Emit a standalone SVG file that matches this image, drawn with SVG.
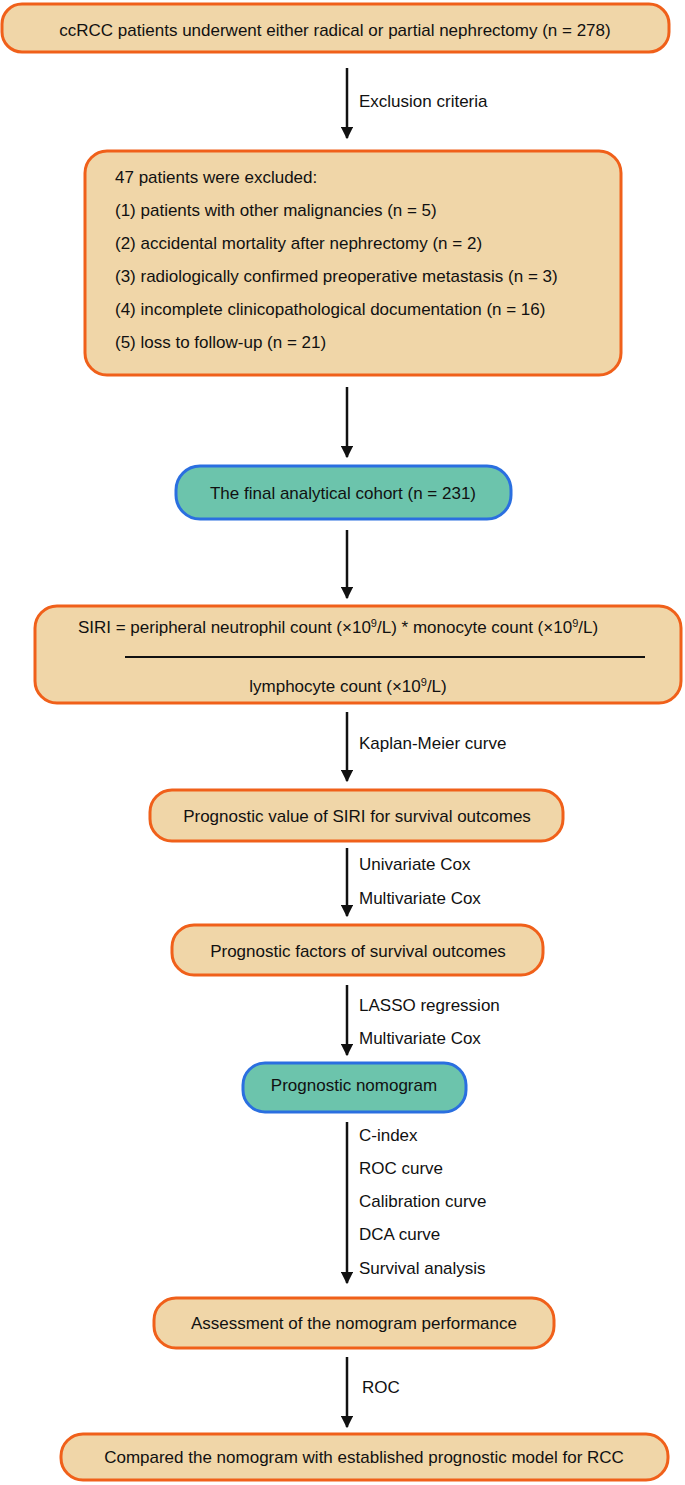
<svg xmlns="http://www.w3.org/2000/svg" width="685" height="1485" viewBox="0 0 685 1485">
<style>
.o{fill:#F0D6A8;stroke:#F0601A;stroke-width:3}
.t{fill:#6CC4AC;stroke:#2A6FE0;stroke-width:3}
text{font-family:"Liberation Sans",Arial,sans-serif;font-size:17px;fill:#111}
.c{text-anchor:middle}
.a{stroke:#111;stroke-width:2.5;fill:none;marker-end:url(#ah)}
</style>
<defs><marker id="ah" viewBox="0 0 10 10" refX="9" refY="5" markerWidth="5" markerHeight="5" orient="auto" markerUnits="strokeWidth"><path d="M0,0L10,5L0,10z" fill="#111"/></marker></defs>
<rect width="685" height="1485" fill="#fff"/>
<g id="n1"><rect class="o" x="2" y="4" width="667" height="48" rx="20"/><text class="c" x="335" y="36">ccRCC patients underwent either radical or partial nephrectomy (n = 278)</text></g>
<g id="n2"><rect class="o" x="85" y="151" width="536" height="224" rx="22"/>
<text x="115" y="183">47 patients were excluded:</text>
<text x="115" y="216">(1) patients with other malignancies (n = 5)</text>
<text x="115" y="249">(2) accidental mortality after nephrectomy (n = 2)</text>
<text x="115" y="282">(3) radiologically confirmed preoperative metastasis (n = 3)</text>
<text x="115" y="315">(4) incomplete clinicopathological documentation (n = 16)</text>
<text x="115" y="348">(5) loss to follow-up (n = 21)</text></g>
<g id="n3"><rect class="t" x="176" y="466" width="335" height="53" rx="24"/><text class="c" x="343" y="499">The final analytical cohort (n = 231)</text></g>
<g id="n4"><rect class="o" x="35" y="606" width="646" height="97" rx="22"/>
<text class="c" x="338" y="633">SIRI = peripheral neutrophil count (×10<tspan dy="-6" font-size="11">9</tspan><tspan dy="6">/L) * monocyte count (×10</tspan><tspan dy="-6" font-size="11">9</tspan><tspan dy="6">/L)</tspan></text>
<line x1="125" y1="657" x2="645" y2="657" stroke="#111" stroke-width="2"/>
<text class="c" x="348" y="692">lymphocyte count (×10<tspan dy="-6" font-size="11">9</tspan><tspan dy="6">/L)</tspan></text></g>
<g id="n5"><rect class="o" x="150" y="790" width="413" height="51" rx="22"/><text class="c" x="357" y="822">Prognostic value of SIRI for survival outcomes</text></g>
<g id="n6"><rect class="o" x="172" y="925" width="371" height="50" rx="22"/><text class="c" x="358" y="957">Prognostic factors of survival outcomes</text></g>
<g id="n7"><rect class="t" x="243" y="1063" width="223" height="49" rx="22"/><text class="c" x="354" y="1091">Prognostic nomogram</text></g>
<g id="n8"><rect class="o" x="154" y="1298" width="400" height="50" rx="22"/><text class="c" x="354" y="1329">Assessment of the nomogram performance</text></g>
<g id="n9"><rect class="o" x="61" y="1434" width="607" height="46" rx="22"/><text class="c" x="364" y="1463">Compared the nomogram with established prognostic model for RCC</text></g>
<g id="edges">
<line class="a" x1="347" y1="68" x2="347" y2="138"/>
<line class="a" x1="347" y1="387" x2="347" y2="457"/>
<line class="a" x1="347" y1="530" x2="347" y2="598"/>
<line class="a" x1="347" y1="712" x2="347" y2="781"/>
<line class="a" x1="347" y1="848" x2="347" y2="916"/>
<line class="a" x1="347" y1="985" x2="347" y2="1055"/>
<line class="a" x1="347" y1="1122" x2="347" y2="1283"/>
<line class="a" x1="347" y1="1357" x2="347" y2="1427"/>
<text x="359" y="107">Exclusion criteria</text>
<text x="359" y="749">Kaplan-Meier curve</text>
<text x="359" y="870">Univariate Cox</text>
<text x="359" y="904">Multivariate Cox</text>
<text x="359" y="1011">LASSO regression</text>
<text x="359" y="1044">Multivariate Cox</text>
<text x="359" y="1141">C-index</text>
<text x="359" y="1174">ROC curve</text>
<text x="359" y="1207">Calibration curve</text>
<text x="359" y="1240">DCA curve</text>
<text x="359" y="1274">Survival analysis</text>
<text x="362" y="1393">ROC</text>
</g>
</svg>
